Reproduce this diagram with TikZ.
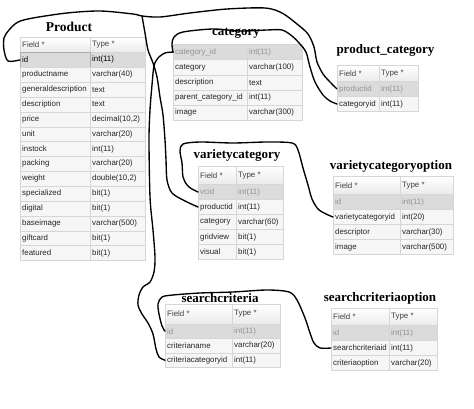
\documentclass[tikz,border=0pt]{standalone}
\usepackage{fontspec}
\setmainfont{Liberation Sans}
\newfontfamily\titlefont{Liberation Serif}
\tikzset{
  cellbase/.style={draw=gray!32,line width=0.4pt},
  headcell/.style={cellbase,top color=white,bottom color=gray!16},
  normcell/.style={cellbase,fill=gray!7},
  keycell/.style={cellbase,fill=gray!28},
  selcell/.style={cellbase,fill=gray!28},
  txtbase/.style={inner sep=0pt,font=\fontsize{7.9}{9}\selectfont},
  headtxt/.style={txtbase,text=black!75},
  normtxt/.style={txtbase,text=black!85},
  keytxt/.style={txtbase,text=gray!85},
  seltxt/.style={txtbase,text=black},
  ttl/.style={inner sep=0pt,font=\titlefont\bfseries\fontsize{13}{15}\selectfont},
  link/.style={draw=black,line width=1.35pt,line join=round,line cap=round},
}
\newcommand\dbrow[9]{%
  \path[#9cell] (#2,#5) rectangle (#3,{#5+#6});
  \path[#9cell] (#3,#5) rectangle (#4,{#5+#6});
  \node[#9txt,anchor=west] (#1) at ({#2+2},{#5+#6/2}) {#7};
  \node[#9txt,anchor=west] (#1t) at ({#3+2},{#5+#6/2}) {#8};
  \coordinate (#1w) at (#2,{#5+#6/2});
}
\begin{document}
\begin{tikzpicture}[x=1pt,y=-1pt]
\useasboundingbox (0,0) rectangle (474,409);
\fill[white] (0,0) rectangle (474,409);

% ---------- Product ----------
\node[ttl,font=\titlefont\bfseries\fontsize{13.5}{15}\selectfont] (tprod) at (69,27) {Product};
\dbrow{ph}{20}{90}{145}{37.5}{15}{Field *}{Type *}{head}
\dbrow{pid}{20}{90}{145}{52.5}{14.85}{id}{int(11)}{sel}
\draw[gray!65,line width=0.7pt] (20,52.5) rectangle (90,67.35);
\dbrow{pname}{20}{90}{145}{67.35}{14.85}{productname}{varchar(40)}{norm}
\dbrow{pgd}{20}{90}{145}{82.2}{14.85}{generaldescription}{text}{norm}
\dbrow{pdesc}{20}{90}{145}{97.05}{14.85}{description}{text}{norm}
\dbrow{pprice}{20}{90}{145}{111.9}{14.85}{price}{decimal(10,2)}{norm}
\dbrow{punit}{20}{90}{145}{126.75}{14.85}{unit}{varchar(20)}{norm}
\dbrow{pstock}{20}{90}{145}{141.6}{14.85}{instock}{int(11)}{norm}
\dbrow{ppack}{20}{90}{145}{156.45}{14.85}{packing}{varchar(20)}{norm}
\dbrow{pweight}{20}{90}{145}{171.3}{14.85}{weight}{double(10,2)}{norm}
\dbrow{pspec}{20}{90}{145}{186.15}{14.85}{specialized}{bit(1)}{norm}
\dbrow{pdig}{20}{90}{145}{201}{14.85}{digital}{bit(1)}{norm}
\dbrow{pbase}{20}{90}{145}{215.85}{14.85}{baseimage}{varchar(500)}{norm}
\dbrow{pgift}{20}{90}{145}{230.7}{14.85}{giftcard}{bit(1)}{norm}
\dbrow{pfeat}{20}{90}{145}{245.55}{14.85}{featured}{bit(1)}{norm}

% ---------- category ----------
\node[ttl] (tcat) at (236,33) {category};
\dbrow{ccid}{173}{247}{302}{44.5}{15.2}{category\_id}{int(11)}{key}
\dbrow{ccat}{173}{247}{302}{59.7}{15.2}{category}{varchar(100)}{norm}
\dbrow{cdesc}{173}{247}{302}{74.9}{15.2}{description}{text}{norm}
\dbrow{cpar}{173}{247}{302}{90.1}{15.2}{parent\_category\_id}{int(11)}{norm}
\dbrow{cimg}{173}{247}{302}{105.3}{15.2}{image}{varchar(300)}{norm}

% ---------- product_category ----------
\node[ttl] (tpc) at (385.5,50) {product\_category};
\dbrow{pch}{337}{379}{418}{65.5}{16}{Field *}{Type *}{head}
\dbrow{pcpid}{337}{379}{418}{81.5}{15}{productid}{int(11)}{key}
\dbrow{pccat}{337}{379}{418}{96.5}{15}{categoryid}{int(11)}{norm}

% ---------- varietycategory ----------
\node[ttl] (tvc) at (237,155) {varietycategory};
\dbrow{vch}{198}{236}{283}{166}{18.5}{Field *}{Type *}{head}
\dbrow{vcid}{198}{236}{283}{184.5}{15}{vcid}{int(11)}{key}
\dbrow{vcpid}{198}{236}{283}{199.5}{15}{productid}{int(11)}{norm}
\dbrow{vccat}{198}{236}{283}{214.5}{15}{category}{varchar(60)}{norm}
\dbrow{vcgrid}{198}{236}{283}{229.5}{15}{gridview}{bit(1)}{norm}
\dbrow{vcvis}{198}{236}{283}{244.5}{15}{visual}{bit(1)}{norm}

% ---------- varietycategoryoption ----------
\node[ttl] (tvco) at (391,166) {varietycategoryoption};
\dbrow{vcoh}{333}{400}{453}{176}{18.5}{Field *}{Type *}{head}
\dbrow{vcoid}{333}{400}{453}{194.5}{15}{id}{int(11)}{key}
\dbrow{vcovid}{333}{400}{453}{209.5}{15}{varietycategoryid}{int(20)}{norm}
\dbrow{vcodesc}{333}{400}{453}{224.5}{15}{descriptor}{varchar(30)}{norm}
\dbrow{vcoimg}{333}{400}{453}{239.5}{15}{image}{varchar(500)}{norm}

% ---------- searchcriteria ----------
\node[ttl] (tsc) at (220,298) {searchcriteria};
\dbrow{sch}{165}{232}{280}{304}{20}{Field *}{Type *}{head}
\dbrow{scid}{165}{232}{280}{324}{14.5}{id}{int(11)}{key}
\dbrow{scname}{165}{232}{280}{338.5}{14.5}{criterianame}{varchar(20)}{norm}
\dbrow{sccc}{165}{232}{280}{353}{14.5}{criteriacategoryid}{int(11)}{norm}

% ---------- searchcriteriaoption ----------
\node[ttl] (tsco) at (380,298) {searchcriteriaoption};
\dbrow{scoh}{331}{389}{437}{308}{17.5}{Field *}{Type *}{head}
\dbrow{scoid}{331}{389}{437}{325.5}{15}{id}{int(11)}{key}
\dbrow{scosid}{331}{389}{437}{340.5}{15}{searchcriteriaid}{int(11)}{norm}
\dbrow{scoopt}{331}{389}{437}{355.5}{15}{criteriaoption}{varchar(20)}{norm}

% ---------- connectors ----------
\coordinate (split) at (142,16);
% Product.id -> product_category.productid
\draw[link] plot[smooth,tension=0.5] coordinates {(pidw) (8,61) (4,50) (4,38) (9,30) (18,22) (33,18) (67,13) (100,11) (133,14) (split) (160,17) (190,13) (227,9) (265,8) (282,13) (297,24) (308,34) (314,47) (317,62) (323,74) (330,82) (pcpidw)};
% Product.id -> varietycategory.productid
\draw[link] plot[smooth,tension=0.5] coordinates {(split) (145,33) (148,50) (153,63) (157,77) (160,97) (163,115) (165,140) (166,160) (167,180) (172,193) (185,201) (vcpidw)};
% category.category_id -> searchcriteria.criteriacategoryid
\draw[link] plot[smooth,tension=0.5] coordinates {(ccidw) (165,53) (158,58) (154,66) (152,85) (150,110) (149,140) (150,197) (153,230) (155,257) (154,272) (150,282) (143,287) (139,295) (138,305) (142,314) (148,323) (153,334) (156,349) (159,357) (scccw)};
% category.category_id -> product_category.categoryid
\draw[link] plot[smooth,tension=0.5] coordinates {(ccidw) (172,44) (174,37) (183,32) (213,29) (240,31) (267,30) (282,30) (292,36) (300,44) (306,52) (310,67) (315,82) (323,95) (330,101) (pccatw)};
% varietycategory.vcid -> varietycategoryoption.varietycategoryid
\draw[link] plot[smooth,tension=0.5] coordinates {(vcidw) (192,189) (187,185) (183,177) (182,163) (180,151) (183,144) (200,142) (233,143) (267,142) (292,143) (298,150) (303,168) (308,185) (312,199) (318,209) (326,214) (vcovidw)};
% searchcriteria.id -> searchcriteriaoption.searchcriteriaid
\draw[link] plot[smooth,tension=0.5] coordinates {(scidw) (162,326) (159,314) (158,304) (162,297) (173,295) (200,293) (233,292) (267,290) (289,292) (297,300) (305,318) (310,333) (314,343) (320,348) (scosidw)};
\end{tikzpicture}
\end{document}
